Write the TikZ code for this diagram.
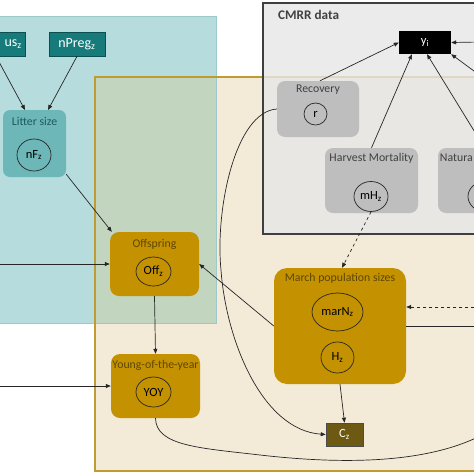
\documentclass[tikz,border=0pt]{standalone}
\usepackage{fontspec}
\setmainfont{Carlito}
\usetikzlibrary{arrows.meta,calc,shapes.geometric}
\definecolor{tealbg}{HTML}{B7DCDD}
\definecolor{tealborder}{HTML}{9CC9CA}
\definecolor{overlap}{HTML}{C2D5BF}
\definecolor{tanbg}{HTML}{F3EBD8}
\definecolor{tanborder}{HTML}{BE9C33}
\definecolor{tealdark}{HTML}{177B7B}
\definecolor{tealdarkline}{HTML}{0D4F50}
\definecolor{tealmid}{HTML}{6DB7B8}
\definecolor{tealtext}{HTML}{1C5A5C}
\definecolor{gold}{HTML}{C49200}
\definecolor{goldtext}{HTML}{5E4600}
\definecolor{olive}{HTML}{6E5912}
\definecolor{cmrrbg}{HTML}{E6E6E6}
\definecolor{cmrrline}{HTML}{3F3F3F}
\definecolor{boxgray}{HTML}{BEBEBE}
\definecolor{graytext}{HTML}{404040}
\tikzset{
  arr/.style={draw=black!85, line width=0.7pt, -{Triangle[length=5pt,width=4pt]}},
  plain/.style={draw=black!85, line width=0.7pt},
  tealbox/.style={rectangle, fill=tealdark, draw=tealdarkline, line width=0.6pt, text=white, inner sep=0pt},
  tealgroup/.style={rectangle, rounded corners=7pt, fill=tealmid, inner sep=0pt},
  goldgroup/.style={rectangle, rounded corners=9pt, fill=gold, inner sep=0pt},
  graygroup/.style={rectangle, rounded corners=8pt, fill=boxgray, inner sep=0pt},
  ttl/.style={font=\fontsize{11.8}{13}\selectfont, inner sep=0pt},
  var/.style={ellipse, draw=black!85, line width=0.7pt, inner sep=0pt, font=\fontsize{12.5}{14}\selectfont},
  bigtxt/.style={font=\fontsize{14}{16}\selectfont},
}
\newcommand{\sbz}{\textsubscript{z}}
\begin{document}
\begin{tikzpicture}[x=1pt,y=-1pt]
\useasboundingbox (0,0) rectangle (474,474);
\clip (0,0) rectangle (474,474);
\fill[white] (0,0) rectangle (474,474);
% background regions
\fill[tealbg] (-10,16) rectangle (216,323);
\fill[tanbg] (95,77) rectangle (490,471);
\fill[overlap] (95,77) rectangle (216,323);
\draw[tealborder, line width=0.8pt] (-10,16) rectangle (216,323);
\draw[tanborder, line width=1.5pt] (95,77) rectangle (490,471);
\fill[cmrrbg, fill opacity=0.8] (263,3) rectangle (490,234);
\draw[cmrrline, line width=1.5pt] (263,3) rectangle (490,234);
\node[anchor=west, font=\bfseries\fontsize{13.2}{15}\selectfont, text=graytext, inner sep=0pt] (cmrr) at (278,15) {CMRR data};

% teal inputs
\node[tealbox, minimum width=58, minimum height=24] (usbox) at (-4,44) {};
\node[text=white, bigtxt, inner sep=0pt, anchor=east] (ustxt) at (22,44) {us\sbz};
\node[tealbox, bigtxt, minimum width=56, minimum height=24] (npreg) at (77,44) {nPreg\sbz};

% litter size
\node[tealgroup, minimum width=63, minimum height=67] (litter) at (34.5,143.5) {};
\node[ttl, text=tealtext] (littert) at (34.5,121) {Litter size};
\node[var, minimum width=34, minimum height=32, text=black] (nF) at (34,155) {nF\sbz};

% offspring
\node[goldgroup, minimum width=89, minimum height=64] (off) at (154.5,264) {};
\node[ttl, text=goldtext] (offt) at (154.5,244) {Offspring};
\node[var, minimum width=35, minimum height=29, text=black] (offv) at (153.5,271.5) {Off\sbz};

% young of the year
\node[goldgroup, minimum width=89, minimum height=64] (yoy) at (155.5,386) {};
\node[ttl, text=goldtext] (yoyt) at (155.5,365) {Young-of-the-year};
\node[var, minimum width=35, minimum height=30, text=black] (yoyv) at (153.5,392) {YOY};

% March population sizes
\node[goldgroup, rounded corners=13pt, minimum width=132, minimum height=116] (mar) at (340,326) {};
\node[ttl, text=goldtext] (mart) at (340,278.5) {March population sizes};
\node[var, minimum width=51, minimum height=38, text=black] (marN) at (337.5,312) {marN\sbz};
\node[var, minimum width=33, minimum height=31, text=black] (H) at (337.5,357.5) {H\sbz};

% C_z
\node[rectangle, fill=olive, draw=black!70, line width=0.6pt, minimum width=37, minimum height=23, text=white, font=\fontsize{12.5}{14}\selectfont, inner sep=0pt] (cz) at (344.5,434.5) {C\sbz};

% CMRR nodes
\node[rectangle, fill=black, minimum width=52, minimum height=23, text=white, font=\fontsize{12.5}{14}\selectfont, inner sep=0pt] (yi) at (425,42.5) {y\textsubscript{i}};
\node[graygroup, minimum width=82, minimum height=56] (rec) at (318,109) {};
\node[ttl, text=graytext] (rect) at (318,90) {Recovery};
\node[var, minimum width=23, minimum height=22, text=black] (r) at (315.5,114) {r};
\node[graygroup, minimum width=93, minimum height=65] (harv) at (371.5,180.5) {};
\node[ttl, text=graytext] (harvt) at (371.5,158) {Harvest Mortality};
\node[graygroup, minimum width=93, minimum height=65] (nat) at (484.5,180.5) {};
\node[ttl, text=graytext, anchor=east] (natt) at (473,158) {Natura};
\node[var, minimum width=34, minimum height=30] (nM) at (485,196.5) {};
\node[var, minimum width=34, minimum height=30, text=black] (mH) at (371,196.5) {mH\sbz};

% free ends
\coordinate (leftoff) at (-5,264);
\coordinate (leftyoy) at (-5,386);
\coordinate (yoyend) at (480,436);
\coordinate (rightdash) at (480,307);
\coordinate (rightline) at (480,326);
\coordinate (rightyi1) at (480,42);
\coordinate (rightyi2) at (497,88);

% connectors
\draw[arr] (usbox.south) -- (25,110);
\draw[arr] (npreg.south) -- (48,110);
\draw[arr] ($(litter.south east)+(0,-3)$) -- ($(off.north west)+(2,0)$);
\draw[arr] (leftoff) -- (off.west);
\draw[arr] (off.south) -- (yoy.north);
\draw[arr] (leftyoy) -- (yoy.west);
\draw[plain] (yoy.south) .. controls (156,446) and (200,448) .. (260,455) .. controls (330,463) and (420,466) .. (yoyend);
\draw[arr] (mar.west) -- (off.east);
\draw[arr] (mar.south) -- (cz.north);
\draw[arr, dashed] (mH.south) -- ($(mar.north)+(2,0)$);
\draw[arr, dashed] (rightdash) -- (mar.east |- rightdash);
\draw[plain] (mar.east) -- (rightline);
\draw[arr] (rec.west) .. controls (235,112) and (215,210) .. (221,270) .. controls (226,340) and (262,430) .. (cz.west);
\draw[arr] ($(rec.north)+(2,0)$) -- (yi.west);
\draw[arr] (harv.north) -- ($(yi.south)+(-13,0)$);
\draw[arr] (nat.north) -- ($(yi.south)+(2,0)$);
\draw[arr] (rightyi2) -- (yi.south east);
\draw[arr] (rightyi1) -- (yi.east);
\end{tikzpicture}
\end{document}
